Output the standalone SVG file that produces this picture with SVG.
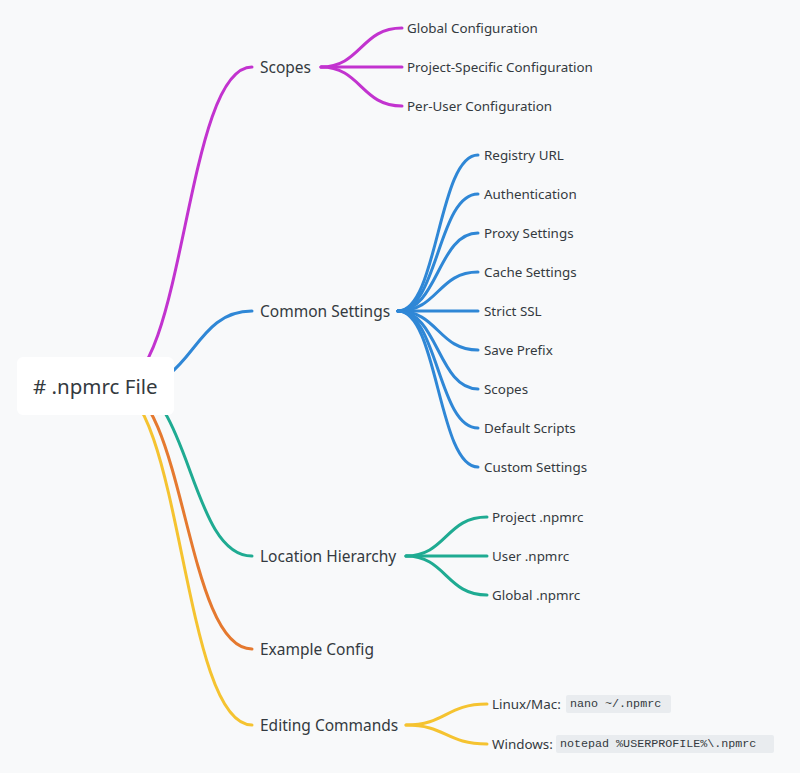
<svg xmlns="http://www.w3.org/2000/svg" width="800" height="773" viewBox="0 0 800 773">
<style>
.bg{fill:#f8f9fa}
.l{fill:none;stroke-width:3;stroke-linecap:round}
.m{stroke:#c233cf}.b{stroke:#2f87d6}.t{stroke:#1fab92}.o{stroke:#e5792f}.y{stroke:#f5c330}
text{font-family:"Noto Sans","Liberation Sans",sans-serif;fill:#343a40;dominant-baseline:central}
.t1{font-size:15.5px}
.t2{font-size:13.4px}
.root{font-size:20.5px}
.code{font-family:"Liberation Mono","DejaVu Sans Mono",monospace;font-size:11.7px}
.cb{fill:#e9ecef}
</style>
<rect class="bg" x="0" y="0" width="800" height="773"/>
<g id="connectors">
<path class="l m" d="M118,385 C185,385 185,67 252,67"/>
<path class="l b" d="M134,386 C193,386 193,311 252,311"/>
<path class="l t" d="M128,386 C190,386 190,556 252,556"/>
<path class="l o" d="M118,386 C185,386 185,649 252,649"/>
<path class="l y" d="M112,386 C182,386 182,725 252,725"/>
<path class="l m" d="M321,67 C361,67 361,28 402,28"/>
<path class="l m" d="M321,67 C361,67 361,67 402,67"/>
<path class="l m" d="M321,67 C361,67 361,106 402,106"/>
<path class="l b" d="M398,311 C438,311 438,155 478,155"/>
<path class="l b" d="M398,311 C438,311 438,194 478,194"/>
<path class="l b" d="M398,311 C438,311 438,233 478,233"/>
<path class="l b" d="M398,311 C438,311 438,272 478,272"/>
<path class="l b" d="M398,311 C438,311 438,311 478,311"/>
<path class="l b" d="M398,311 C438,311 438,350 478,350"/>
<path class="l b" d="M398,311 C438,311 438,389 478,389"/>
<path class="l b" d="M398,311 C438,311 438,428 478,428"/>
<path class="l b" d="M398,311 C438,311 438,467 478,467"/>
<path class="l t" d="M406,556 C446,556 446,517 487,517"/>
<path class="l t" d="M406,556 C446,556 446,556 487,556"/>
<path class="l t" d="M406,556 C446,556 446,595 487,595"/>
<path class="l y" d="M406,725 C446,725 446,704 487,704"/>
<path class="l y" d="M406,725 C446,725 446,744 487,744"/>
</g>
<g id="root">
<rect x="17" y="357" width="157" height="58" rx="6" fill="#ffffff"/>
<text class="root" x="33" y="386"># .npmrc File</text>
</g>
<g id="n-scopes"><text class="t1" x="260" y="67">Scopes</text></g>
<g id="n-global-config"><text class="t2" x="407" y="28">Global Configuration</text></g>
<g id="n-project-config"><text class="t2" x="407" y="67">Project-Specific Configuration</text></g>
<g id="n-user-config"><text class="t2" x="407" y="106">Per-User Configuration</text></g>
<g id="n-common"><text class="t1" x="260" y="311">Common Settings</text></g>
<g id="n-registry"><text class="t2" x="484" y="155">Registry URL</text></g>
<g id="n-auth"><text class="t2" x="484" y="194">Authentication</text></g>
<g id="n-proxy"><text class="t2" x="484" y="233">Proxy Settings</text></g>
<g id="n-cache"><text class="t2" x="484" y="272">Cache Settings</text></g>
<g id="n-ssl"><text class="t2" x="484" y="311">Strict SSL</text></g>
<g id="n-prefix"><text class="t2" x="484" y="350">Save Prefix</text></g>
<g id="n-scopes2"><text class="t2" x="484" y="389">Scopes</text></g>
<g id="n-scripts"><text class="t2" x="484" y="428">Default Scripts</text></g>
<g id="n-custom"><text class="t2" x="484" y="467">Custom Settings</text></g>
<g id="n-location"><text class="t1" x="260" y="556">Location Hierarchy</text></g>
<g id="n-project-npmrc"><text class="t2" x="492" y="517">Project .npmrc</text></g>
<g id="n-user-npmrc"><text class="t2" x="492" y="556">User .npmrc</text></g>
<g id="n-global-npmrc"><text class="t2" x="492" y="595">Global .npmrc</text></g>
<g id="n-example"><text class="t1" x="260" y="649">Example Config</text></g>
<g id="n-editing"><text class="t1" x="260" y="725">Editing Commands</text></g>
<g id="n-linux">
<text class="t2" x="492" y="704">Linux/Mac:</text>
<rect class="cb" x="566" y="695" width="105" height="18" rx="2"/>
<text class="code" x="570" y="704">nano ~/.npmrc</text>
</g>
<g id="n-windows">
<text class="t2" x="492" y="744">Windows:</text>
<rect class="cb" x="556" y="735" width="218" height="18" rx="2"/>
<text class="code" x="560" y="744">notepad %USERPROFILE%\.npmrc</text>
</g>
</svg>
